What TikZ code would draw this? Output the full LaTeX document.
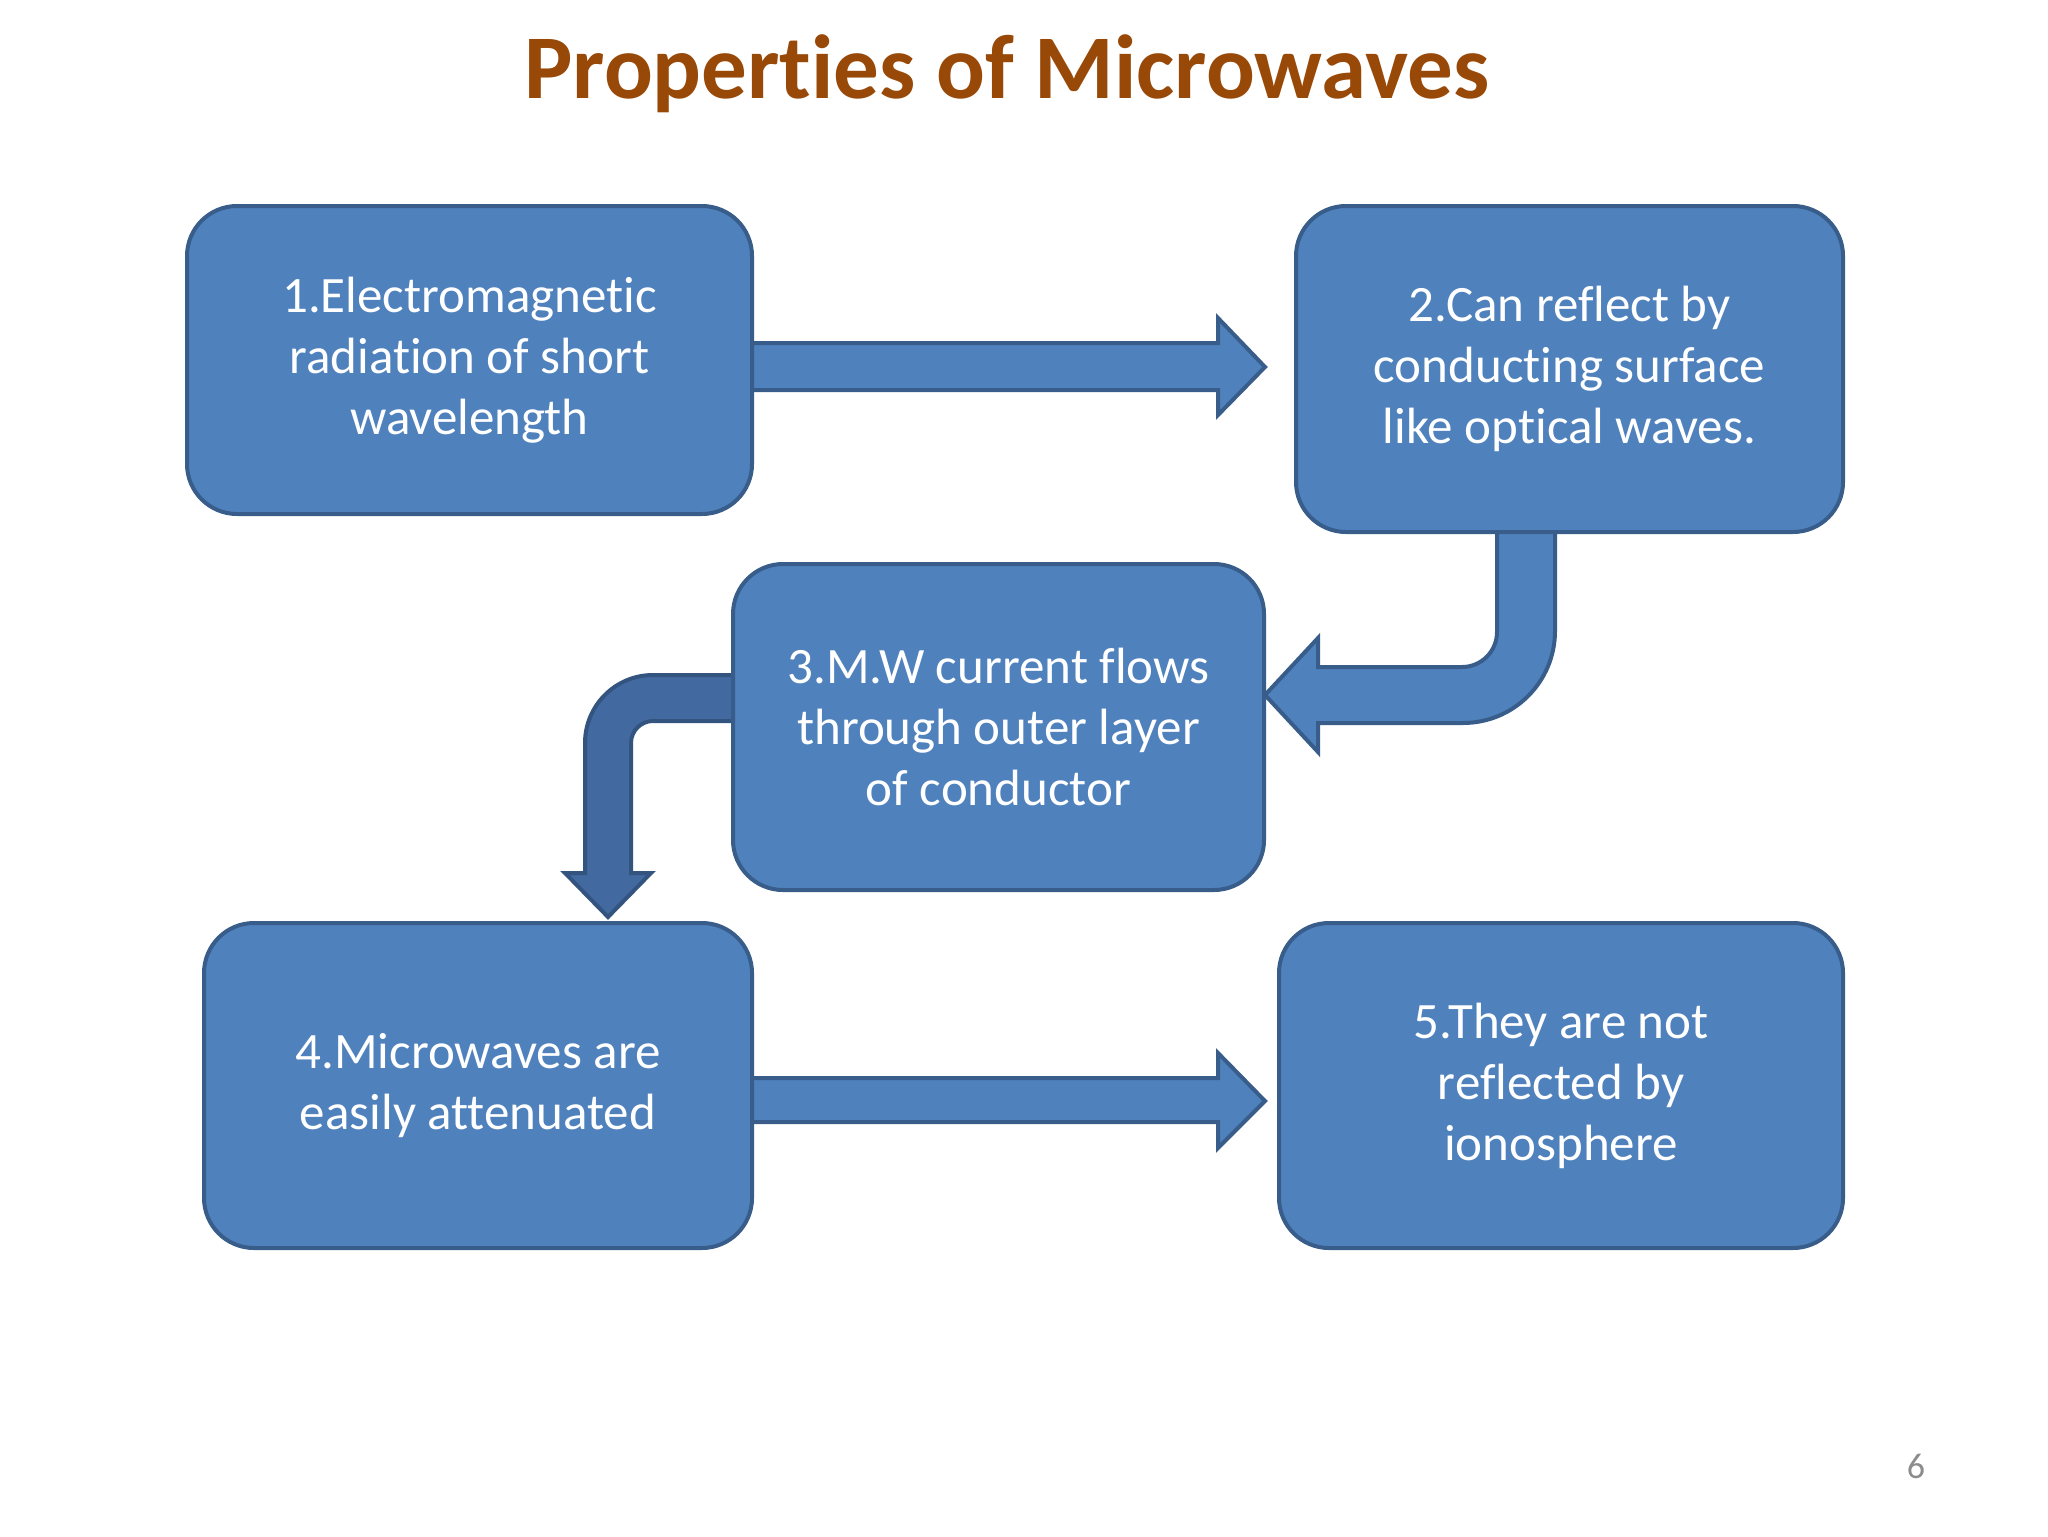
\documentclass[tikz,border=0pt]{standalone}
\usepackage{fontspec}
\setmainfont{Carlito}[Ligatures={NoCommon}]
\pgfdeclarelayer{bg}
\pgfsetlayers{bg,main}
\definecolor{boxfill}{HTML}{4F81BD}
\definecolor{boxline}{HTML}{385D8A}
\definecolor{darkfill}{RGB}{67,105,161}
\definecolor{darkline}{RGB}{52,84,128}
\definecolor{titlecol}{RGB}{152,72,7}
\definecolor{pagecol}{RGB}{140,140,140}
\begin{document}
\begin{tikzpicture}[x=0.5pt,y=-0.5pt,
  card/.style={draw=boxline, line width=2pt, fill=boxfill, rounded corners=25pt,
    text=white, align=center, font=\fontsize{25.5}{30.5}\selectfont, inner sep=0pt},
  blockarrow/.style={draw=boxline, line width=2pt, fill=boxfill, line join=miter},
  darkarrow/.style={draw=darkline, line width=2pt, fill=darkfill, line join=miter}]
\useasboundingbox (0,0) rectangle (2048,1536);

\node[font=\bfseries\fontsize{45.5}{54}\selectfont, text=titlecol, anchor=base] (title) at (1007,98) {Properties of Microwaves};

\node[card, minimum width=282.5pt, minimum height=154pt] (b1) at (469.5,360)
  {1.Electromagnetic\\radiation of short\\wavelength};
\node[card, minimum width=273.5pt, minimum height=163pt] (b2) at (1569.5,369)
  {2.Can reflect by\\conducting surface\\like optical waves.};
\node[card, minimum width=265.5pt, minimum height=163pt] (b3) at (998.5,727)
  {3.M.W current flows\\through outer layer\\of conductor};
\node[card, minimum width=274pt, minimum height=162.5pt] (b4) at (478,1085.5)
  {4.Microwaves are\\easily attenuated};
\node[card, minimum width=282pt, minimum height=162.5pt] (b5) at (1561,1085.5)
  {5.They are not\\reflected by\\ionosphere};

\node[font=\fontsize{18}{21}\selectfont, text=pagecol] (page) at (1916,1466) {6};

\begin{pgfonlayer}{bg}
  % arrow 1 -> 2
  \draw[blockarrow] (740,343) -- (1218,343) -- (1218,318) -- (1265,367)
    -- (1218,415) -- (1218,390) -- (740,390) -- cycle;
  % arrow 4 -> 5
  \draw[blockarrow] (740,1078) -- (1218,1078) -- (1218,1053) -- (1265,1101)
    -- (1218,1148) -- (1218,1122) -- (740,1122) -- cycle;
  % bent arrow 2 -> 3
  \draw[blockarrow] (1497,515) -- (1497,632)
    arc[start angle=0, end angle=-90, radius=17.5pt]
    -- (1318,667) -- (1318,638) -- (1265,695) -- (1318,752) -- (1318,723)
    -- (1463,723) arc[start angle=-90, end angle=0, radius=46pt]
    -- (1555,515) -- cycle;
  % bent arrow 3 -> 4
  \draw[darkarrow] (745,675) -- (653,675)
    arc[start angle=90, end angle=180, radius=34pt]
    -- (585,873) -- (565,873) -- (608,917) -- (651,873) -- (631,873)
    -- (631,743) arc[start angle=180, end angle=90, radius=11pt]
    -- (745,721) -- cycle;
\end{pgfonlayer}
\end{tikzpicture}
\end{document}
